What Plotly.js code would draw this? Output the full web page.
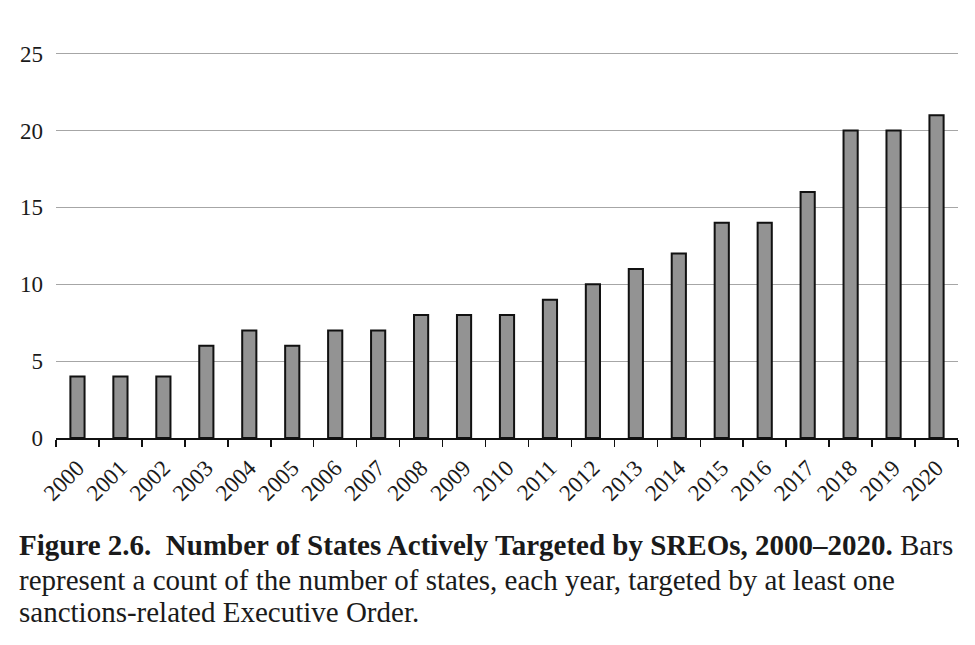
<!DOCTYPE html>
<html>
<head>
<meta charset="utf-8">
<script src="https://cdn.plot.ly/plotly-3.0.1.min.js"></script>
<style>html,body{margin:0;padding:0;background:#fff;}#chart{width:975px;height:645px;}</style>
</head>
<body>
<div id="chart"></div>
<script>
const years = ["2000","2001","2002","2003","2004","2005","2006","2007","2008","2009","2010","2011","2012","2013","2014","2015","2016","2017","2018","2019","2020"];
const statesTargeted = [4,4,4,6,7,6,7,7,8,8,8,9,10,11,12,14,14,16,20,20,21];
const yTicks = [0,5,10,15,20,25];
const captionLines = [
  "<b>Figure 2.6.  Number of States Actively Targeted by SREOs, 2000–2020.</b> Bars",
  "represent a count of the number of states, each year, targeted by at least one",
  "sanctions-related Executive Order."
];

const serif = "Liberation Serif, Times New Roman, serif";
const trace = {
  type: "bar",
  x: years,
  y: statesTargeted,
  width: 0.33,
  marker: {color: "#939393", line: {color: "#111111", width: 2}},
  hoverinfo: "x+y"
};

const capY = [-0.273, -0.362, -0.444];
const annotations = captionLines.map((t, i) => ({
  text: t, xref: "paper", yref: "paper", x: -0.043, y: capY[i],
  xanchor: "left", yanchor: "middle", showarrow: false, align: "left",
  font: {family: serif, size: 29, color: "#1a1a1a"}
}));

const layout = {
  width: 975, height: 645,
  margin: {l: 56, r: 17, t: 46, b: 207},
  paper_bgcolor: "#ffffff", plot_bgcolor: "#ffffff",
  showlegend: false,
  xaxis: {
    type: "category",
    tickangle: -45,
    ticks: "outside", tickson: "boundaries", ticklen: 7, tickwidth: 1.5, tickcolor: "#111",
    showline: true, linecolor: "#111", linewidth: 1.5,
    showgrid: false,
    ticklabelstandoff: 6,
    tickfont: {family: serif, size: 23, color: "#1a1a1a"}
  },
  yaxis: {
    range: [0, 25.5], tickvals: yTicks, ticktext: yTicks.map(String),
    showgrid: true, gridcolor: "#a6a6a6", gridwidth: 1.2,
    zeroline: false, showline: false, ticks: "",
    ticklabelstandoff: 12,
    tickfont: {family: serif, size: 23, color: "#1a1a1a"}
  },
  annotations: annotations
};

Plotly.newPlot("chart", [trace], layout, {displayModeBar: false, staticPlot: true});
</script>
</body>
</html>
